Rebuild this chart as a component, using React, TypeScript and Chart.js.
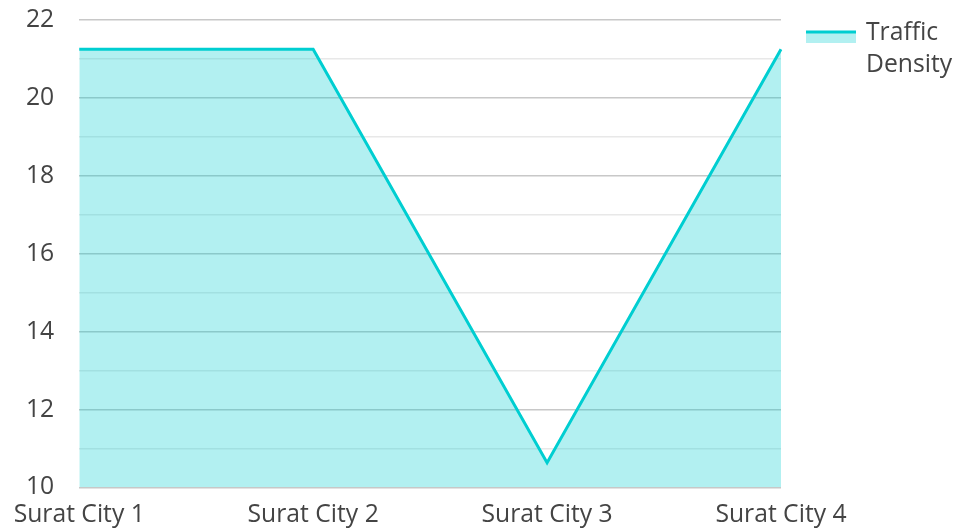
import React, { useEffect, useRef } from "react";
import { Chart, registerables } from "chart.js";

Chart.register(...registerables);

const categories = ["Surat City 1", "Surat City 2", "Surat City 3", "Surat City 4"];
const trafficDensity = [21.25, 21.25, 10.63, 21.25];
const seriesLabel = ["Traffic", "Density"];
const yMin = 10;
const yMax = 22;

const LINE = "#00CED1";
const FILL = "rgba(0,206,209,0.3)";
const TEXT = "#444444";
const FONT = "'Open Sans', sans-serif";
const FONT_SIZE = 24.7;

const legendPlugin = {
  id: "customLegend",
  afterDraw(chart: any) {
    const ctx = chart.ctx;
    const area = chart.chartArea;
    const x0 = area.right + 25;
    ctx.save();
    ctx.fillStyle = FILL;
    ctx.fillRect(x0, 33, 50, 10);
    ctx.strokeStyle = LINE;
    ctx.lineWidth = 3;
    ctx.beginPath();
    ctx.moveTo(x0, 32);
    ctx.lineTo(x0 + 50, 32);
    ctx.stroke();
    ctx.fillStyle = TEXT;
    ctx.font = `${FONT_SIZE}px ${FONT}`;
    ctx.textAlign = "left";
    ctx.textBaseline = "alphabetic";
    seriesLabel.forEach((t, i) => ctx.fillText(t, x0 + 60, 39.5 + i * 32));
    ctx.restore();
  },
};

export default function App() {
  const ref = useRef<HTMLCanvasElement>(null);
  useEffect(() => {
    document.body.style.margin = "0";
    const chart = new Chart(ref.current as HTMLCanvasElement, {
      type: "line",
      data: {
        labels: categories,
        datasets: [
          {
            label: seriesLabel.join(" "),
            data: trafficDensity,
            borderColor: LINE,
            backgroundColor: FILL,
            borderWidth: 3,
            fill: "start",
            pointRadius: 0,
            tension: 0,
          },
        ],
      },
      options: {
        animation: false,
        responsive: false,
        layout: { padding: { left: 21, right: 174, top: 20, bottom: 0 } },
        plugins: { legend: { display: false }, tooltip: { enabled: false } },
        scales: {
          x: {
            offset: false,
            grid: {
              display: true,
              color: "rgba(0,0,0,0)",
              drawTicks: true,
              tickLength: 12,
              tickColor: "rgba(0,0,0,0)",
            },
            border: { display: false },
            ticks: {
              autoSkip: false,
              maxRotation: 0,
              minRotation: 0,
              padding: 1,
              color: TEXT,
              font: { family: FONT, size: FONT_SIZE },
            },
          },
          y: {
            min: yMin,
            max: yMax,
            grid: {
              drawTicks: true,
              tickLength: 20,
              tickColor: "rgba(0,0,0,0)",
              color: (c: any) => (c.tick && c.tick.value % 2 === 0 ? "#c8c8c8" : "#e8e8e8"),
              lineWidth: 1.5,
            },
            border: { display: false },
            ticks: {
              stepSize: 1,
              padding: 5,
              color: TEXT,
              font: { family: FONT, size: FONT_SIZE },
              callback: (v: any) => (Number(v) % 2 === 0 ? String(v) : ""),
            },
          },
        },
      },
      plugins: [legendPlugin],
    });
    return () => chart.destroy();
  }, []);
  return <canvas ref={ref} width={955} height={531} style={{ display: "block" }} />;
}
